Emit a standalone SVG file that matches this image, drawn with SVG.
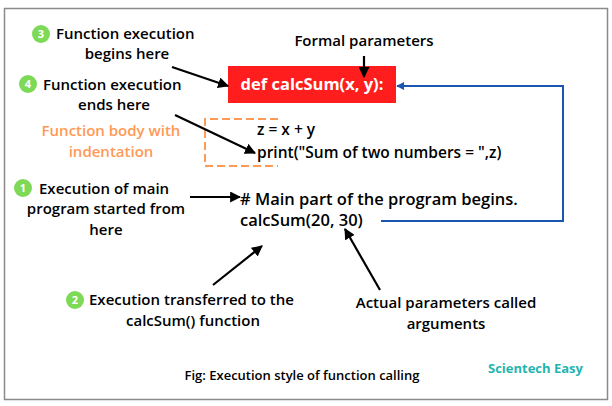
<svg xmlns="http://www.w3.org/2000/svg" width="612" height="406" viewBox="0 0 612 406">
<defs>
<marker id="ah" viewBox="0 0 10 10" refX="9" refY="5" markerWidth="5" markerHeight="5" orient="auto"><path d="M0,0L10,5L0,10z" fill="#000"/></marker>
<marker id="bh" viewBox="0 0 10 10" refX="9" refY="5" markerWidth="4" markerHeight="4" orient="auto"><path d="M0,0L10,5L0,10z" fill="#1a55b0"/></marker>
</defs>
<style>
text{font-family:"Open Sans","Liberation Sans",sans-serif;font-weight:600;fill:#000}
.l{font-size:15px}
.c{font-size:15.5px}
.n{font-size:11px;fill:#fff;text-anchor:middle;font-weight:700}
.m{text-anchor:middle}
.a{stroke:#000;stroke-width:2.2;fill:none;marker-end:url(#ah)}
</style>
<rect width="612" height="406" fill="#fff"/>
<rect x="4.5" y="8.5" width="603" height="391" fill="#fff" stroke="#8a8a8a" stroke-width="1.5"/>
<g id="n3"><circle cx="41" cy="34" r="9" fill="#7ed957"/><text class="n" x="41" y="38">3</text><text class="l" x="56" y="39">Function execution</text><text class="l m" x="127" y="59">begins here</text></g>
<g id="def"><rect x="228" y="66" width="168" height="37" fill="#ff1d1d"/><text x="312" y="90" class="m" style="font-size:16.5px;font-weight:700;fill:#fff">def calcSum(x, y):</text></g>
<g id="formal"><text class="l m" x="364" y="46">Formal parameters</text></g>
<g id="n4"><circle cx="28" cy="84" r="9" fill="#7ed957"/><text class="n" x="28" y="88">4</text><text class="l" x="43" y="90">Function execution</text><text class="l m" x="114" y="110">ends here</text></g>
<g id="body"><path d="M278,119H205V166H278" fill="none" stroke="#ff9955" stroke-width="2" stroke-dasharray="8,4"/><text class="l m" x="111" y="136" style="fill:#ff9955">Function body with</text><text class="l m" x="111" y="157" style="fill:#ff9955">indentation</text><text class="c" x="257" y="135">z = x + y</text><text class="c" x="257" y="158">print("Sum of two numbers = ",z)</text></g>
<g id="n1"><circle cx="23" cy="188" r="9" fill="#7ed957"/><text class="n" x="23" y="192">1</text><text class="l" x="39" y="194">Execution of main</text><text class="l m" x="106" y="214">program started from</text><text class="l m" x="106" y="235">here</text></g>
<g id="main"><text x="240" y="205" style="font-size:16.5px">#  Main part of the program begins.</text><text x="240" y="226" style="font-size:16.5px">calcSum(20, 30)</text></g>
<g id="n2"><circle cx="75" cy="300" r="9" fill="#7ed957"/><text class="n" x="75" y="304">2</text><text class="l" x="89" y="305">Execution transferred to the</text><text class="l m" x="193" y="326">calcSum() function</text></g>
<g id="actual"><text class="l m" x="446" y="308">Actual parameters called</text><text class="l m" x="446" y="329">arguments</text></g>
<g id="cap"><text x="302" y="380" class="m" style="font-size:13px">Fig: Execution style of function calling</text><text x="488" y="373" style="font-size:13px;fill:#1fb5b0;font-weight:700">Scientech Easy</text></g>
<g id="connectors">
<path class="a" d="M364,56V77"/>
<path class="a" d="M172,67L228,86"/>
<path class="a" d="M175,115L255,153"/>
<path class="a" d="M190,197H240"/>
<path class="a" d="M213,285L262,246"/>
<path class="a" d="M380,290L345,229"/>
<path d="M381,221H563V86H397" fill="none" stroke="#1a55b0" stroke-width="2" marker-end="url(#bh)"/>
</g>
</svg>
